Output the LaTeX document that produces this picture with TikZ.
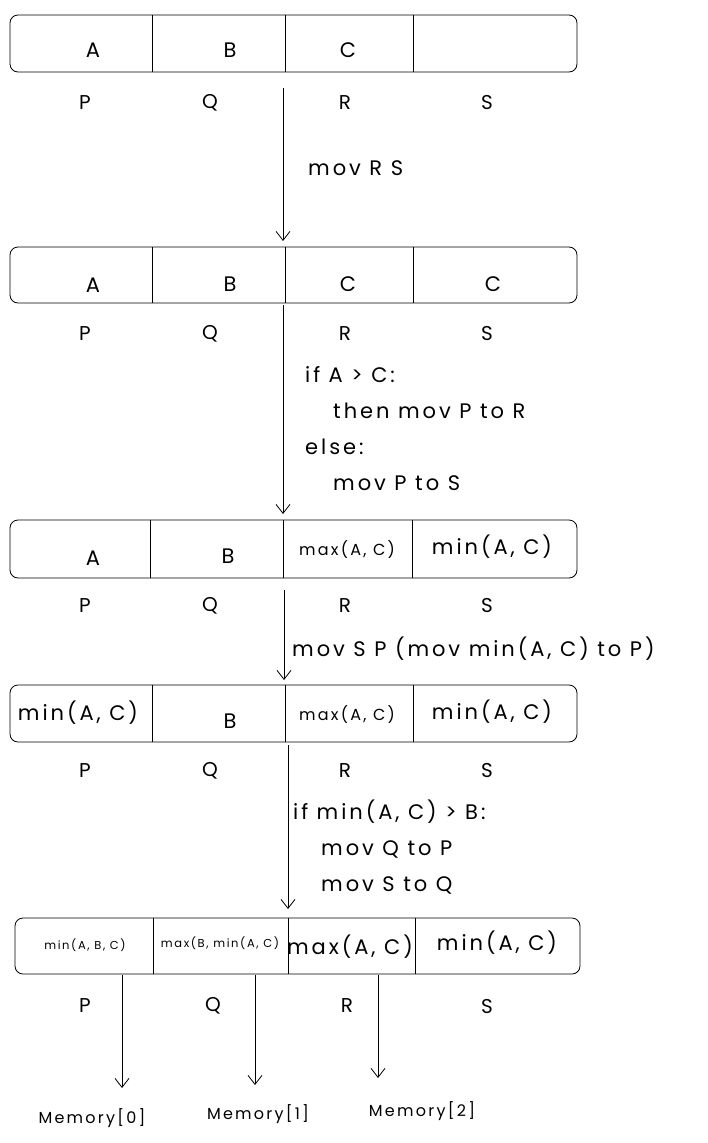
\documentclass[tikz,border=0pt]{standalone}
\usepackage{fontspec}
\setmainfont[LetterSpace=14]{Poppins}
\usetikzlibrary{arrows.meta}
\begin{document}
\begin{tikzpicture}[x=1pt,y=-1pt,
  row/.style={draw,rounded corners=8pt,line width=0.8pt},
  cell/.style={font=\fontsize{21}{22}\selectfont,inner sep=0pt},
  small/.style={font=\fontsize{16}{16}\selectfont,inner sep=0pt},
  tiny/.style={font=\fontsize{11.5}{12}\selectfont,inner sep=0pt},
  lab/.style={font=\fontsize{20}{22}\selectfont,inner sep=0pt},
  note/.style={font=\fontsize{21}{36}\selectfont,align=left,anchor=north west,inner sep=0pt},
  arr/.style={-{Straight Barb[length=9pt,width=14pt]},line width=0.8pt}]
\useasboundingbox (0,0) rectangle (707,1143);
% row 1
\draw[row] (10,15) rectangle (577,72);
\foreach \x in {152,285,413} \draw[line width=0.8pt] (\x,15) -- (\x,72);
\node[cell] (a1) at (93,50) {A};
\node[cell] (b1) at (230,50) {B};
\node[cell] (c1) at (348,50) {C};
\foreach \n/\x/\t in {p1/85/P,q1/210/Q,r1/345/R,s1/487/S} \node[lab] (\n) at (\x,103) {\t};
% row 2
\draw[row] (10,247) rectangle (577,303);
\foreach \x in {152,285,413} \draw[line width=0.8pt] (\x,247) -- (\x,303);
\node[cell] (a2) at (93,285) {A};
\node[cell] (b2) at (230,284) {B};
\node[cell] (c2) at (348,284) {C};
\node[cell] (d2) at (493,284) {C};
\foreach \n/\x/\t in {p2/85/P,q2/210/Q,r2/345/R,s2/487/S} \node[lab] (\n) at (\x,334) {\t};
% row 3
\draw[row] (10,520) rectangle (577,578);
\foreach \x in {150,283,412} \draw[line width=0.8pt] (\x,520) -- (\x,578);
\node[cell] (a3) at (93,558) {A};
\node[cell] (b3) at (228,556) {B};
\node[small] (c3) at (347,550) {max(A, C)};
\node[cell] (d3) at (492,547) {min(A, C)};
\foreach \n/\x/\t in {p3/85/P,q3/210/Q,r3/345/R,s3/487/S} \node[lab] (\n) at (\x,606) {\t};
% row 4
\draw[row] (10,685) rectangle (577,742);
\foreach \x in {152,285,413} \draw[line width=0.8pt] (\x,685) -- (\x,742);
\node[cell] (a4) at (78,713) {min(A, C)};
\node[cell] (b4) at (230,721) {B};
\node[small] (c4) at (347,715) {max(A, C)};
\node[cell] (d4) at (492,712) {min(A, C)};
\foreach \n/\x/\t in {p4/85/P,q4/210/Q,r4/345/R,s4/487/S} \node[lab] (\n) at (\x,771) {\t};
% row 5
\draw[row] (15,918) rectangle (580,974);
\foreach \x in {153,288,415} \draw[line width=0.8pt] (\x,918) -- (\x,974);
\node[tiny] (a5) at (85,945) {min(A, B, C)};
\node[tiny] (b5) at (220,943) {max(B, min(A, C)};
\node[cell] (c5) at (350,947) {max(A, C)};
\node[cell] (d5) at (497,943) {min(A, C)};
\foreach \n/\x/\t in {p5/85/P,q5/213/Q,r5/347/R,s5/487/S} \node[lab] (\n) at (\x,1006) {\t};
% arrows
\coordinate (t1) at (283,88); \coordinate (h1) at (283,241);
\draw[arr] (t1) -- (h1);
\node[note] (n1) at (308,160) {mov R S};
\coordinate (t2) at (283,305); \coordinate (h2) at (283,514);
\draw[arr] (t2) -- (h2);
\node[note] (n2) at (305,366) {if A > C:\\\hspace{28pt}then mov P to R\\else:\\\hspace{28pt}mov P to S};
\coordinate (t3) at (284,590); \coordinate (h3) at (284,680);
\draw[arr] (t3) -- (h3);
\node[note] (n3) at (292,637) {mov S P (mov min(A, C) to P)};
\coordinate (t4) at (288,745); \coordinate (h4) at (288,909);
\draw[arr] (t4) -- (h4);
\node[note] (n4) at (293,800) {if min(A, C) > B:\\\hspace{28pt}mov Q to P\\\hspace{28pt}mov S to Q};
% memory
\node[small] (m0) at (92,1118) {Memory[0]};
\node[small] (m1) at (258,1114) {Memory[1]};
\node[small] (m2) at (422,1111) {Memory[2]};
\coordinate (u0) at (122,975); \coordinate (v0) at (122,1088);
\coordinate (u1) at (255,975); \coordinate (v1) at (255,1085);
\coordinate (u2) at (378,975); \coordinate (v2) at (378,1078);
\foreach \i in {0,1,2} \draw[arr] (u\i) -- (v\i);
\end{tikzpicture}
\end{document}
